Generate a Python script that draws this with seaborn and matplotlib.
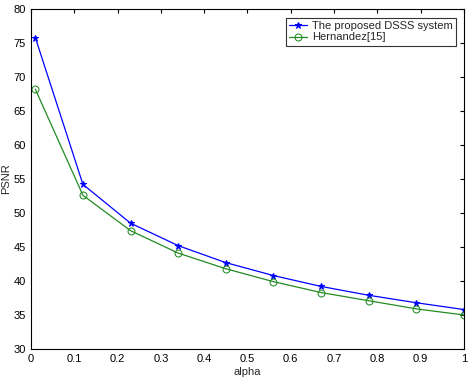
import matplotlib
matplotlib.use("Agg")
import matplotlib.pyplot as plt
import seaborn as sns
import pandas as pd

alpha_vals = [0.01, 0.12, 0.23, 0.34, 0.45, 0.56, 0.67, 0.78, 0.89, 1.0]
dsss = [75.8, 54.2, 48.5, 45.2, 42.7, 40.8, 39.2, 37.9, 36.8, 35.8]
hernandez = [68.2, 52.6, 47.4, 44.1, 41.8, 39.9, 38.3, 37.1, 35.9, 35.0]
labels = ["The proposed DSSS system", "Hernandez[15]"]

sns.set_style("white")
plt.rcParams['font.family'] = ['Liberation Sans', 'DejaVu Sans']

df = pd.DataFrame({"alpha": alpha_vals * 2,
                   "PSNR": dsss + hernandez,
                   "series": [labels[0]] * len(dsss) + [labels[1]] * len(hernandez)})

fig = plt.figure(figsize=(4.74, 3.77), dpi=100)
ax = fig.add_axes([31/474, 28/377, 433/474, 340/377])

sns.lineplot(data=df[df.series == labels[0]], x="alpha", y="PSNR", color="#0000ff",
             marker="*", markersize=5, linewidth=0.9, label=labels[0], ax=ax,
             markeredgecolor="#0000ff")
sns.lineplot(data=df[df.series == labels[1]], x="alpha", y="PSNR", color="#228B22",
             marker="o", markersize=5, linewidth=0.9, label=labels[1], ax=ax,
             markerfacecolor="none", markeredgecolor="#228B22")

ax.set_xlim(0, 1)
ax.set_ylim(30, 80)
ax.set_xticks([0, 0.1, 0.2, 0.3, 0.4, 0.5, 0.6, 0.7, 0.8, 0.9, 1])
ax.set_xticklabels(["0", "0.1", "0.2", "0.3", "0.4", "0.5", "0.6", "0.7", "0.8", "0.9", "1"])
ax.set_yticks(range(30, 81, 5))
ax.tick_params(direction="in", top=True, right=True, length=3, labelsize=8, width=0.8, colors="black")
ax.set_xlabel("alpha", fontsize=8, labelpad=2)
ax.set_ylabel("PSNR", fontsize=8, labelpad=2)
for s in ax.spines.values():
    s.set_color("black")
    s.set_linewidth(0.8)

leg = ax.legend(loc="upper right", fontsize=8, frameon=True, fancybox=False,
                edgecolor="black", borderpad=0.3, labelspacing=0.1, handlelength=1.6,
                handletextpad=0.5, bbox_to_anchor=(0.995, 0.99))
leg.get_frame().set_linewidth(0.8)

fig.savefig("out.png", dpi=100)
